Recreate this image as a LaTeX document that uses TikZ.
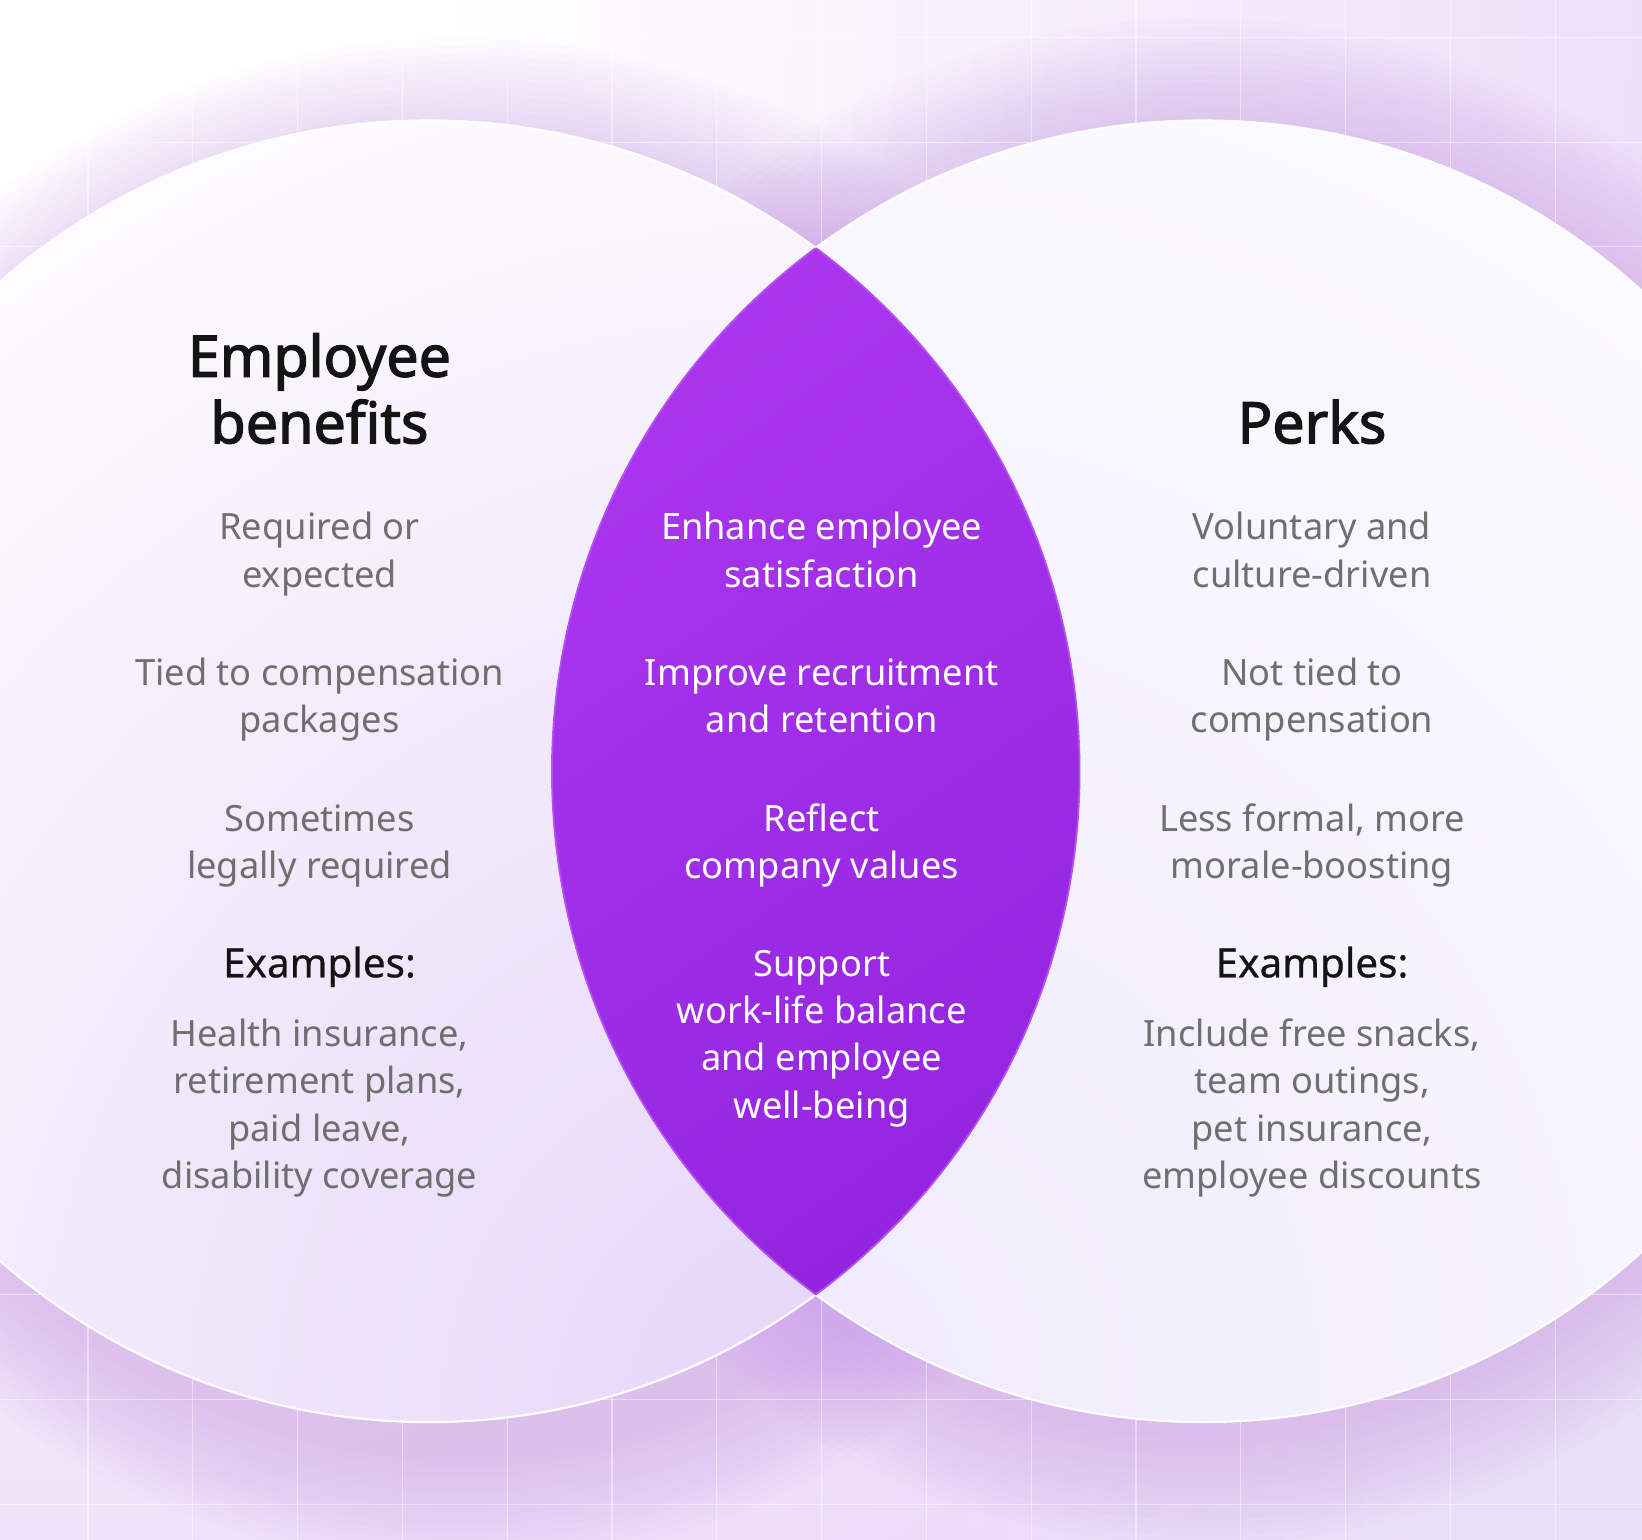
\documentclass[tikz,border=0pt]{standalone}
\usepackage{fontspec}
\setmainfont{Noto Sans}
\newfontfamily\medfont[FakeBold=0.6]{Noto Sans}
\newfontfamily\titlefont[FakeBold=2.2]{Noto Sans}
\definecolor{pwhite}{RGB}{255,255,255}
\definecolor{bgbase}{HTML}{E8CFF7}
\definecolor{blin}{HTML}{F5E4FA}
\definecolor{brin}{HTML}{EEEAFB}
\definecolor{shadowcol}{HTML}{C592EC}
\definecolor{lcbot}{HTML}{E5D5F8}
\definecolor{rcbot}{HTML}{EFEBFC}
\definecolor{lenstop}{HTML}{AA37EE}
\definecolor{lensbot}{HTML}{891ADA}
\definecolor{lensedge}{HTML}{B552F2}
\definecolor{titlecol}{HTML}{141414}
\definecolor{graytxt}{HTML}{6F6F6F}
\pgfdeclareradialshading{glowshade}{\pgfpointorigin}{color(0bp)=(pwhite); color(5bp)=(pwhite); color(25bp)=(bgbase); color(50bp)=(bgbase)}
\tikzset{
  gridline/.style={pwhite, opacity=0.45, line width=0.3pt},
  ttl/.style={font=\titlefont\fontsize{16.3}{19}\selectfont, text=titlecol, inner sep=0pt, anchor=base},
  bodytxt/.style={font=\fontsize{10.3}{13.4}\selectfont, text=graytxt, inner sep=0pt, anchor=base},
  midtxt/.style={bodytxt, text=pwhite},
  extitle/.style={font=\medfont\fontsize{11.5}{14}\selectfont, text=titlecol, inner sep=0pt, anchor=base}
}
\begin{document}
\begin{tikzpicture}[x=0.01cm,y=-0.01cm]
\useasboundingbox (0,0) rectangle (1642,1540);
\begin{scope}
\clip (0,0) rectangle (1642,1540);
% background with a white glow at the top-left corner
\fill[bgbase] (0,0) rectangle (1642,1540);
\shade[shading=glowshade] (0,0) circle (2200);
% lighter corners at the bottom
\foreach \i in {1,...,15} {
  \fill[blin, opacity=0.08] (0,1540) circle (40*\i);
}
\foreach \i in {1,...,17} {
  \fill[brin, opacity=0.09] (1642,1540) circle (40*\i);
}
% soft shadows of the two circles (left one offset away from the glow)
\foreach \i in {1,...,14} {
  \fill[shadowcol, opacity=0.032] (458.8,801.3) circle (650.8+8*\i);
  \fill[shadowcol, opacity=0.032] (1202.7,781.3) circle (650.8+8*\i);
}
% grid
\foreach \k in {0,...,14} {
  \draw[gridline] (88+104.8*\k,0) -- (88+104.8*\k,1540);
  \draw[gridline] (0,37.3+104.8*\k) -- (1642,37.3+104.8*\k);
}
% left circle
\begin{scope}
\clip (428.8,771.3) circle (650.8);
\fill[pwhite] (428.8,771.3) circle (650.8);
\shade[inner color=lcbot, outer color=pwhite] (830,1420) circle (1550);
\end{scope}
\draw[pwhite, line width=0.6pt] (428.8,771.3) circle (650.8);
% right circle
\begin{scope}
\clip (1202.7,771.3) circle (650.8);
\fill[pwhite] (1202.7,771.3) circle (650.8);
\shade[inner color=rcbot, outer color=pwhite] (820,1380) circle (1800);
\end{scope}
\draw[pwhite, line width=0.6pt] (1202.7,771.3) circle (650.8);
% lens
\begin{scope}
\clip (428.8,771.3) circle (650.8);
\shade[top color=lenstop, bottom color=lensbot, shading angle=35] (1202.7,771.3) circle (650.8);
\draw[lensedge, line width=0.5pt] (1202.7,771.3) circle (650.8);
\end{scope}
\begin{scope}
\clip (1202.7,771.3) circle (650.8);
\draw[lensedge, line width=0.5pt] (428.8,771.3) circle (650.8);
\end{scope}
\end{scope}
% left column
\node[ttl] (lt1) at (319.5,376.7) {Employee};
\node[ttl] (lt2) at (319.5,443.3) {benefits};
\node[bodytxt] (l1) at (319.5,540) {Required or};
\node[bodytxt] (l2) at (319.5,587.2) {expected};
\node[bodytxt] (l3) at (319.5,685.6) {Tied to compensation};
\node[bodytxt] (l4) at (319.5,732.8) {packages};
\node[bodytxt] (l5) at (319.5,831.2) {Sometimes};
\node[bodytxt] (l6) at (319.5,878.4) {legally required};
\node[extitle] (lex) at (319.5,977.3) {Examples:};
\node[bodytxt] (l7) at (319.5,1046.7) {Health insurance,};
\node[bodytxt] (l8) at (319.5,1093.9) {retirement plans,};
\node[bodytxt] (l9) at (319.5,1141.1) {paid leave,};
\node[bodytxt] (l10) at (319.5,1188.3) {disability coverage};
% centre column
\node[midtxt] (m1) at (821.7,540) {Enhance employee};
\node[midtxt] (m2) at (821.7,587.2) {satisfaction};
\node[midtxt] (m3) at (821.7,685.6) {Improve recruitment};
\node[midtxt] (m4) at (821.7,732.8) {and retention};
\node[midtxt] (m5) at (821.7,831.2) {Reflect};
\node[midtxt] (m6) at (821.7,878.4) {company values};
\node[midtxt] (m7) at (821.7,976.5) {Support};
\node[midtxt] (m8) at (821.7,1023.7) {work-life balance};
\node[midtxt] (m9) at (821.7,1070.9) {and employee};
\node[midtxt] (m10) at (821.7,1118.1) {well-being};
% right column
\node[ttl] (rt1) at (1312,443.3) {Perks};
\node[bodytxt] (r1) at (1312,540) {Voluntary and};
\node[bodytxt] (r2) at (1312,587.2) {culture-driven};
\node[bodytxt] (r3) at (1312,685.6) {Not tied to};
\node[bodytxt] (r4) at (1312,732.8) {compensation};
\node[bodytxt] (r5) at (1312,831.2) {Less formal, more};
\node[bodytxt] (r6) at (1312,878.4) {morale-boosting};
\node[extitle] (rex) at (1312,977.3) {Examples:};
\node[bodytxt] (r7) at (1312,1046.7) {Include free snacks,};
\node[bodytxt] (r8) at (1312,1093.9) {team outings,};
\node[bodytxt] (r9) at (1312,1141.1) {pet insurance,};
\node[bodytxt] (r10) at (1312,1188.3) {employee discounts};
\end{tikzpicture}
\end{document}
